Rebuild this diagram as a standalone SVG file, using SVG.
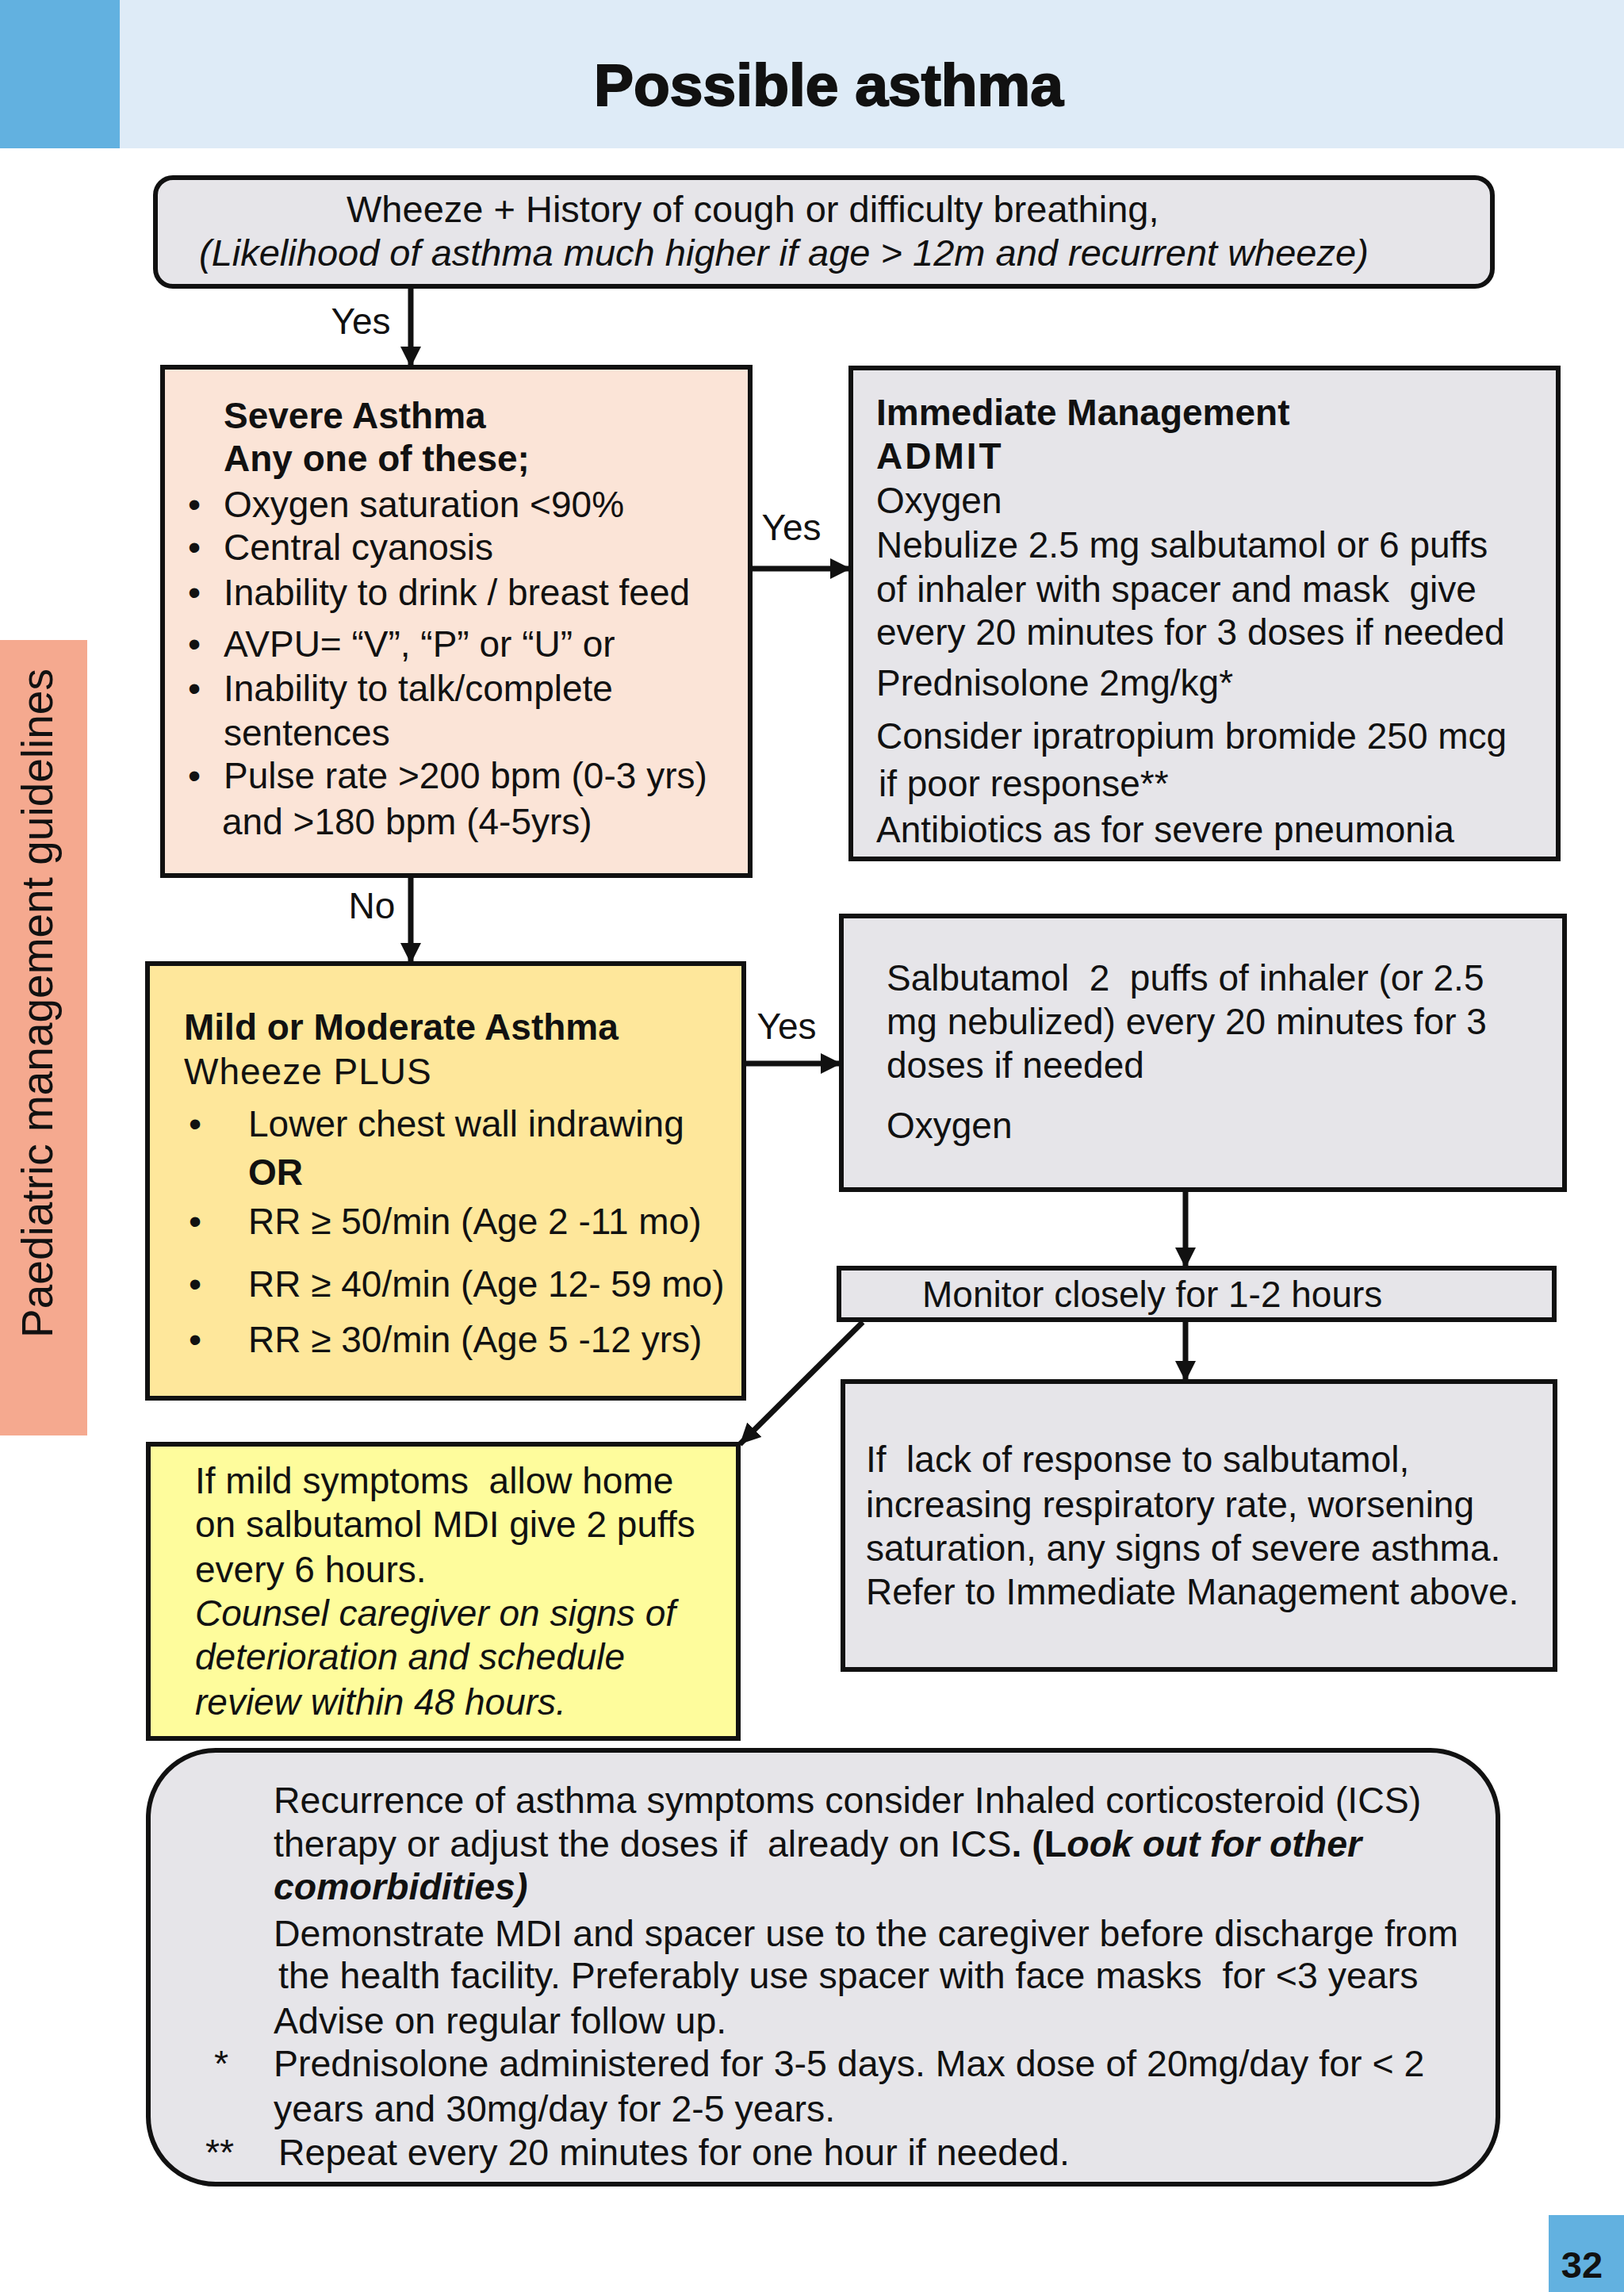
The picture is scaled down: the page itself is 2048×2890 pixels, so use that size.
<svg xmlns="http://www.w3.org/2000/svg" width="2048" height="2890" viewBox="0 0 2048 2890">
<style>
text{font-family:"Liberation Sans",Arial,sans-serif;font-size:46px;fill:#111}
.b{font-weight:bold}
.i{font-style:italic}
.box{stroke:#111;stroke-width:6}
.gray{fill:#e6e5e9}
.conn{stroke:#111;stroke-width:7;fill:none}
.top{font-size:47px}
.note{font-size:46.5px}
</style>
<defs>
<marker id="ah" markerUnits="userSpaceOnUse" markerWidth="28" markerHeight="28" refX="26" refY="13" orient="auto">
<path d="M0,0 L26,13 L0,26 z" fill="#111"/>
</marker>
</defs>
<rect width="2048" height="2890" fill="#ffffff"/>
<g id="header">
<rect x="0" y="0" width="151" height="187" fill="#62b1e0"/>
<rect x="151" y="0" width="1897" height="187" fill="#deebf7"/>
<text x="1045" y="133" class="b" style="font-size:75px;stroke:#111;stroke-width:2" text-anchor="middle">Possible asthma</text>
</g>
<g id="side-tab">
<rect x="0" y="807" width="110" height="1003" fill="#f5a98f"/>
<text transform="translate(66,1265) rotate(-90)" text-anchor="middle" style="font-size:55px">Paediatric management guidelines</text>
</g>
<g id="page-number">
<rect x="1953" y="2793" width="95" height="97" fill="#62b1e0"/>
<text x="1995" y="2872" class="b" text-anchor="middle" style="font-size:47px">32</text>
</g>
<g id="connectors">
<line class="conn" x1="518" y1="361" x2="518" y2="463" marker-end="url(#ah)"/>
<line class="conn" x1="946" y1="717" x2="1073" y2="717" marker-end="url(#ah)"/>
<line class="conn" x1="518" y1="1104" x2="518" y2="1215" marker-end="url(#ah)"/>
<line class="conn" x1="938" y1="1341" x2="1061" y2="1341" marker-end="url(#ah)"/>
<line class="conn" x1="1495" y1="1500" x2="1495" y2="1599" marker-end="url(#ah)"/>
<line class="conn" x1="1495" y1="1664" x2="1495" y2="1742" marker-end="url(#ah)"/>
<line class="conn" x1="1088" y1="1667" x2="933" y2="1821" marker-end="url(#ah)"/>
<text x="455" y="421" text-anchor="middle">Yes</text>
<text x="998" y="681" text-anchor="middle">Yes</text>
<text x="469" y="1158" text-anchor="middle">No</text>
<text x="992" y="1310" text-anchor="middle">Yes</text>
</g>
<g id="start">
<rect class="box gray" x="196" y="224" width="1686" height="137" rx="22"/>
<text x="437" y="280" class="top">Wheeze + History of cough or difficulty breathing,</text>
<text x="251" y="335" class="i top">(Likelihood of asthma much higher if age &gt; 12m and recurrent wheeze)</text>
</g>
<g id="severe">
<rect class="box" x="205" y="463" width="741" height="641" fill="#fbe4d7"/>
<text x="282" y="540" class="b">Severe Asthma</text>
<text x="282" y="594" class="b">Any one of these;</text>
<text x="237" y="652">•</text><text x="282" y="652">Oxygen saturation &lt;90%</text>
<text x="237" y="706">•</text><text x="282" y="706">Central cyanosis</text>
<text x="237" y="763">•</text><text x="282" y="763">Inability to drink / breast feed</text>
<text x="237" y="828">•</text><text x="282" y="828">AVPU= “V”, “P” or “U” or</text>
<text x="237" y="884">•</text><text x="282" y="884">Inability to talk/complete</text>
<text x="282" y="940">sentences</text>
<text x="237" y="994">•</text><text x="282" y="994">Pulse rate &gt;200 bpm (0-3 yrs)</text>
<text x="280" y="1052">and &gt;180 bpm (4-5yrs)</text>
</g>
<g id="immediate">
<rect class="box gray" x="1073" y="464" width="892" height="619"/>
<text x="1105" y="536" class="b">Immediate Management</text>
<text x="1105" y="591" class="b" letter-spacing="3">ADMIT</text>
<text x="1105" y="647">Oxygen</text>
<text x="1105" y="703">Nebulize 2.5 mg salbutamol or 6 puffs</text>
<text x="1105" y="759" xml:space="preserve">of inhaler with spacer and mask  give</text>
<text x="1105" y="813">every 20 minutes for 3 doses if needed</text>
<text x="1105" y="877">Prednisolone 2mg/kg*</text>
<text x="1105" y="944">Consider ipratropium bromide 250 mcg</text>
<text x="1108" y="1004">if poor response**</text>
<text x="1105" y="1062">Antibiotics as for severe pneumonia</text>
</g>
<g id="mild-moderate">
<rect class="box" x="186" y="1215" width="752" height="548" fill="#fee79b"/>
<text x="232" y="1311" class="b">Mild or Moderate Asthma</text>
<text x="232" y="1367" letter-spacing="1">Wheeze PLUS</text>
<text x="238" y="1433">•</text><text x="313" y="1433">Lower chest wall indrawing</text>
<text x="313" y="1494" class="b">OR</text>
<text x="238" y="1556">•</text><text x="313" y="1556">RR ≥ 50/min (Age 2 -11 mo)</text>
<text x="238" y="1635">•</text><text x="313" y="1635">RR ≥ 40/min (Age 12- 59 mo)</text>
<text x="238" y="1705">•</text><text x="313" y="1705">RR ≥ 30/min (Age 5 -12 yrs)</text>
</g>
<g id="salbutamol">
<rect class="box gray" x="1061" y="1155" width="912" height="345"/>
<text x="1118" y="1249" xml:space="preserve">Salbutamol  2  puffs of inhaler (or 2.5</text>
<text x="1118" y="1304">mg nebulized) every 20 minutes for 3</text>
<text x="1118" y="1359">doses if needed</text>
<text x="1118" y="1435">Oxygen</text>
</g>
<g id="monitor">
<rect class="box gray" x="1058" y="1599" width="902" height="65"/>
<text x="1163" y="1648">Monitor closely for 1-2 hours</text>
</g>
<g id="no-response">
<rect class="box gray" x="1063" y="1742" width="898" height="363"/>
<text x="1092" y="1856" xml:space="preserve">If  lack of response to salbutamol,</text>
<text x="1092" y="1913">increasing respiratory rate, worsening</text>
<text x="1092" y="1968">saturation, any signs of severe asthma.</text>
<text x="1092" y="2023">Refer to Immediate Management above.</text>
</g>
<g id="home">
<rect class="box" x="187" y="1821" width="744" height="371" fill="#fefc9c"/>
<text x="246" y="1883" xml:space="preserve">If mild symptoms  allow home</text>
<text x="246" y="1938">on salbutamol MDI give 2 puffs</text>
<text x="246" y="1995">every 6 hours.</text>
<text x="246" y="2050" class="i">Counsel caregiver on signs of</text>
<text x="246" y="2105" class="i">deterioration and schedule</text>
<text x="246" y="2162" class="i">review within 48 hours.</text>
</g>
<g id="notes">
<rect class="box gray" x="187" y="2207" width="1702" height="547" rx="85"/>
<text x="345" y="2286" class="note">Recurrence of asthma symptoms consider Inhaled corticosteroid (ICS)</text>
<text x="345" y="2341" class="note" xml:space="preserve">therapy or adjust the doses if  already on ICS<tspan class="b">. (L</tspan><tspan class="b i">ook out for other</tspan></text>
<text x="345" y="2395" class="b i note">comorbidities)</text>
<text x="345" y="2454" class="note">Demonstrate MDI and spacer use to the caregiver before discharge from</text>
<text x="351" y="2507" class="note" xml:space="preserve">the health facility. Preferably use spacer with face masks  for &lt;3 years</text>
<text x="345" y="2564" class="note">Advise on regular follow up.</text>
<text x="270" y="2618" class="note">*</text>
<text x="345" y="2618" class="note">Prednisolone administered for 3-5 days. Max dose of 20mg/day for &lt; 2</text>
<text x="345" y="2675" class="note">years and 30mg/day for 2-5 years.</text>
<text x="259" y="2730" class="note">**</text>
<text x="351" y="2730" class="note">Repeat every 20 minutes for one hour if needed.</text>
</g>
</svg>
